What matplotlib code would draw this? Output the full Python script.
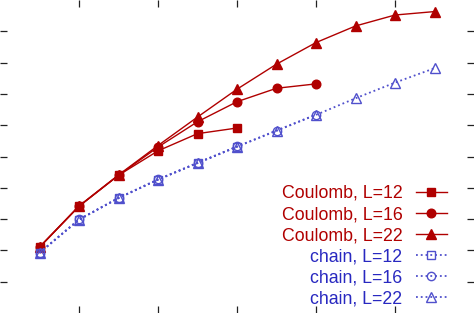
import matplotlib
matplotlib.use("Agg")
import matplotlib.pyplot as plt

plt.rcParams['font.family'] = ['Liberation Sans', 'DejaVu Sans']

# data
x_all = [1, 2, 3, 4, 5, 6, 7, 8, 9, 10, 11]
coul_12 = [2.10, 3.41, 4.40, 5.18, 5.73, 5.91]
coul_16 = [2.10, 3.41, 4.40, 5.30, 6.11, 6.75, 7.18, 7.32]
coul_22 = [2.11, 3.42, 4.41, 5.35, 6.26, 7.15, 7.95, 8.64, 9.17, 9.52, 9.63]
chain_12 = [1.92, 2.98, 3.67, 4.26, 4.79, 5.31]
chain_16 = [1.93, 2.99, 3.68, 4.27, 4.80, 5.32, 5.83, 6.34]
chain_22 = [1.92, 2.98, 3.67, 4.26, 4.79, 5.31, 5.82, 6.33, 6.86, 7.36, 7.82]
labels = ["Coulomb, L=12", "Coulomb, L=16", "Coulomb, L=22",
          "chain, L=12", "chain, L=16", "chain, L=22"]
x_ticks = [2, 4, 6, 8, 10]
y_ticks = [1, 2, 3, 4, 5, 6, 7, 8, 9]

red = '#b00000'
blue = '#5050cc'
blue_text = '#2828c0'

fig = plt.figure(figsize=(4.74, 3.13), dpi=100)
ax = fig.add_axes([0, 0, 1, 1])

series = [
    (coul_12, red, '-', 's', True),
    (coul_16, red, '-', 'o', True),
    (coul_22, red, '-', '^', True),
    (chain_12, blue, ':', 's', False),
    (chain_16, blue, ':', 'o', False),
    (chain_22, blue, ':', '^', False),
]
handles = []
for (vals, col, ls, mk, filled), lab in zip(series, labels):
    xs = x_all[:len(vals)]
    if filled:
        h, = ax.plot(xs, vals, color=col, ls=ls, lw=1.0, marker=mk,
                     ms=6.2 if mk != '^' else 6.8, mfc=col, mec=col, label=lab)
    else:
        h, = ax.plot(xs, vals, color=col, ls=ls, lw=1.3, marker=mk,
                     ms=6.0 if mk != '^' else 6.6, mfc='none', mec=col,
                     mew=1.0, label=lab)
    handles.append(h)

ax.set_xlim(0, 12)
ax.set_ylim(0, 10)
ax.set_xticks(x_ticks)
ax.set_yticks(y_ticks)
ax.tick_params(direction='in', length=5, width=0.9, color='#222222',
               top=True, right=True, labelbottom=False, labelleft=False)
for s in ax.spines.values():
    s.set_visible(False)

leg = ax.legend(handles=handles, loc='lower right',
                bbox_to_anchor=(447 / 474, 0.018), markerfirst=False,
                frameon=False, fontsize=12.8, handlelength=1.75,
                handletextpad=0.75, labelspacing=0.23, borderpad=0,
                borderaxespad=0)
for t, c in zip(leg.get_texts(), [red, red, red, blue_text, blue_text, blue_text]):
    t.set_color(c)

fig.savefig('out.png', dpi=100)
